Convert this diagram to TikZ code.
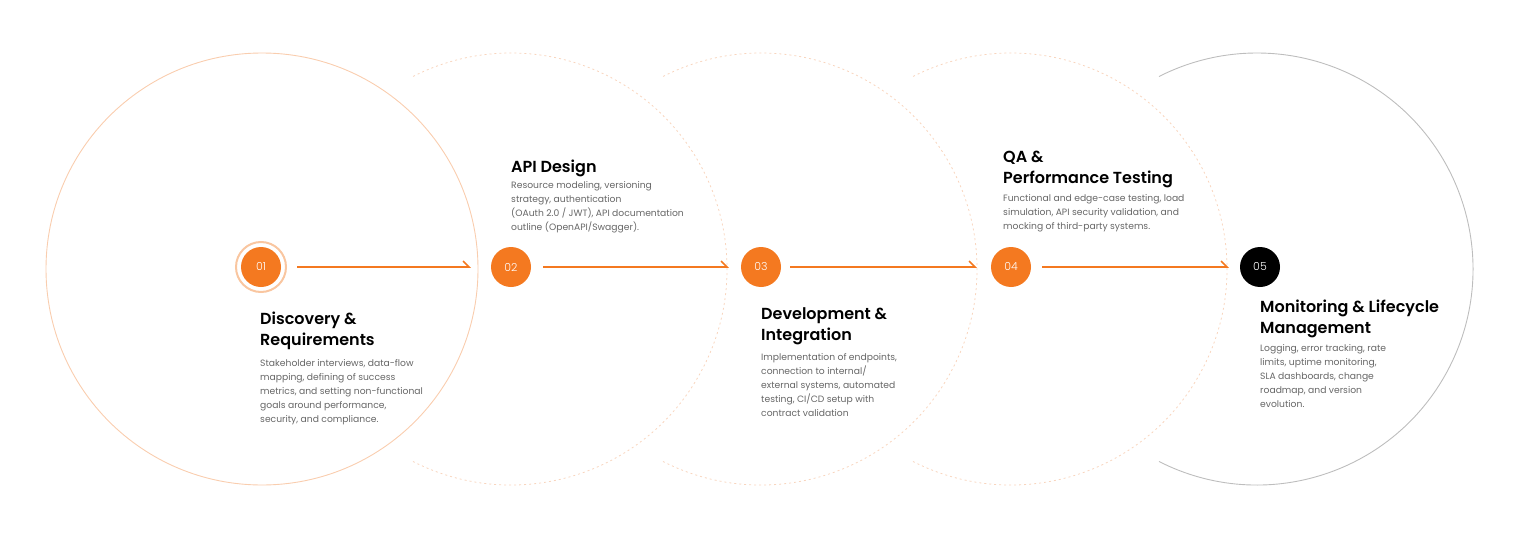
\documentclass[tikz,border=0pt]{standalone}
\usepackage{fontspec}
\setmainfont{Poppins}
\usetikzlibrary{arrows.meta}
\definecolor{org}{HTML}{F47920}
\definecolor{lorg}{HTML}{F9CDAE}
\definecolor{dorg}{HTML}{F8D5BE}
\definecolor{ring}{HTML}{F9C6A0}
\definecolor{bodyc}{HTML}{666666}
\definecolor{grayarc}{HTML}{BDBDBD}
\tikzset{
  dotn/.style={circle,fill=org,minimum size=40pt,inner sep=0pt,text=white,font=\fontsize{11}{11}\selectfont\fontspec{Poppins Light}},
  ttl/.style={anchor=base west,align=left,inner sep=0pt,font=\fontsize{16}{21}\selectfont\fontspec{Poppins SemiBold}},
  bdy/.style={anchor=base west,align=left,inner sep=0pt,text=bodyc,font=\fontsize{9.2}{13.9}\selectfont},
  flow/.style={draw=org,line width=1.6pt,-{Straight Barb[harpoon,length=6pt,width=12pt,line width=1.6pt]}},
  dcirc/.style={draw=dorg,line width=0.8pt,dash pattern=on 2pt off 3pt},
}
\begin{document}
\begin{tikzpicture}[x=1pt,y=-1pt]
\useasboundingbox (0,0) rectangle (1536,535);
\draw[lorg,line width=0.9pt] (262,269) circle (216);
\foreach \cx in {511,761,1011} {
  \draw[dcirc] (\cx,269) ++(117:216) arc[start angle=117,end angle=-117,radius=216];
}
\draw[grayarc,line width=0.9pt] (1257,269) ++(117:216) arc[start angle=117,end angle=-117,radius=216];
\draw[ring,line width=2pt] (261,267) circle (25);
\node[dotn] (n1) at (261,267) {01};
\node[dotn] (n2) at (511,267) {02};
\node[dotn] (n3) at (761,267) {03};
\node[dotn] (n4) at (1011,267) {04};
\node[dotn,fill=black] (n5) at (1260,267) {05};
\coordinate (a1) at (471,267); \coordinate (a2) at (729,267);
\coordinate (a3) at (977,267); \coordinate (a4) at (1229,267);
\draw[flow] (n1.east)++(16,0) -- (a1);
\draw[flow] (n2.east)++(12,0) -- (a2);
\draw[flow] (n3.east)++(9,0) -- (a3);
\draw[flow] (n4.east)++(11,0) -- (a4);
\node[ttl] (t1) at (260,345) {Discovery \&\\Requirements};
\node[bdy] (b1) at (260,422) {Stakeholder interviews, data-flow\\mapping, defining of success\\metrics, and setting non-functional\\goals around performance,\\security, and compliance.};
\node[ttl] (t2) at (511,172) {API Design};
\node[bdy] (b2) at (511,230) {Resource modeling, versioning\\strategy, authentication\\(OAuth 2.0 / JWT), API documentation\\outline (OpenAPI/Swagger).};
\node[ttl] (t3) at (761,340) {Development \&\\Integration};
\node[bdy] (b3) at (761,416) {Implementation of endpoints,\\connection to internal/\\external systems, automated\\testing, CI/CD setup with\\contract validation};
\node[ttl] (t4) at (1003,183) {QA \&\\Performance Testing};
\node[bdy] (b4) at (1003,229) {Functional and edge-case testing, load\\simulation, API security validation, and\\mocking of third-party systems.};
\node[ttl] (t5) at (1260,333) {Monitoring \& Lifecycle\\Management};
\node[bdy] (b5) at (1260,407) {Logging, error tracking, rate\\limits, uptime monitoring,\\SLA dashboards, change\\roadmap, and version\\evolution.};
\end{tikzpicture}
\end{document}
